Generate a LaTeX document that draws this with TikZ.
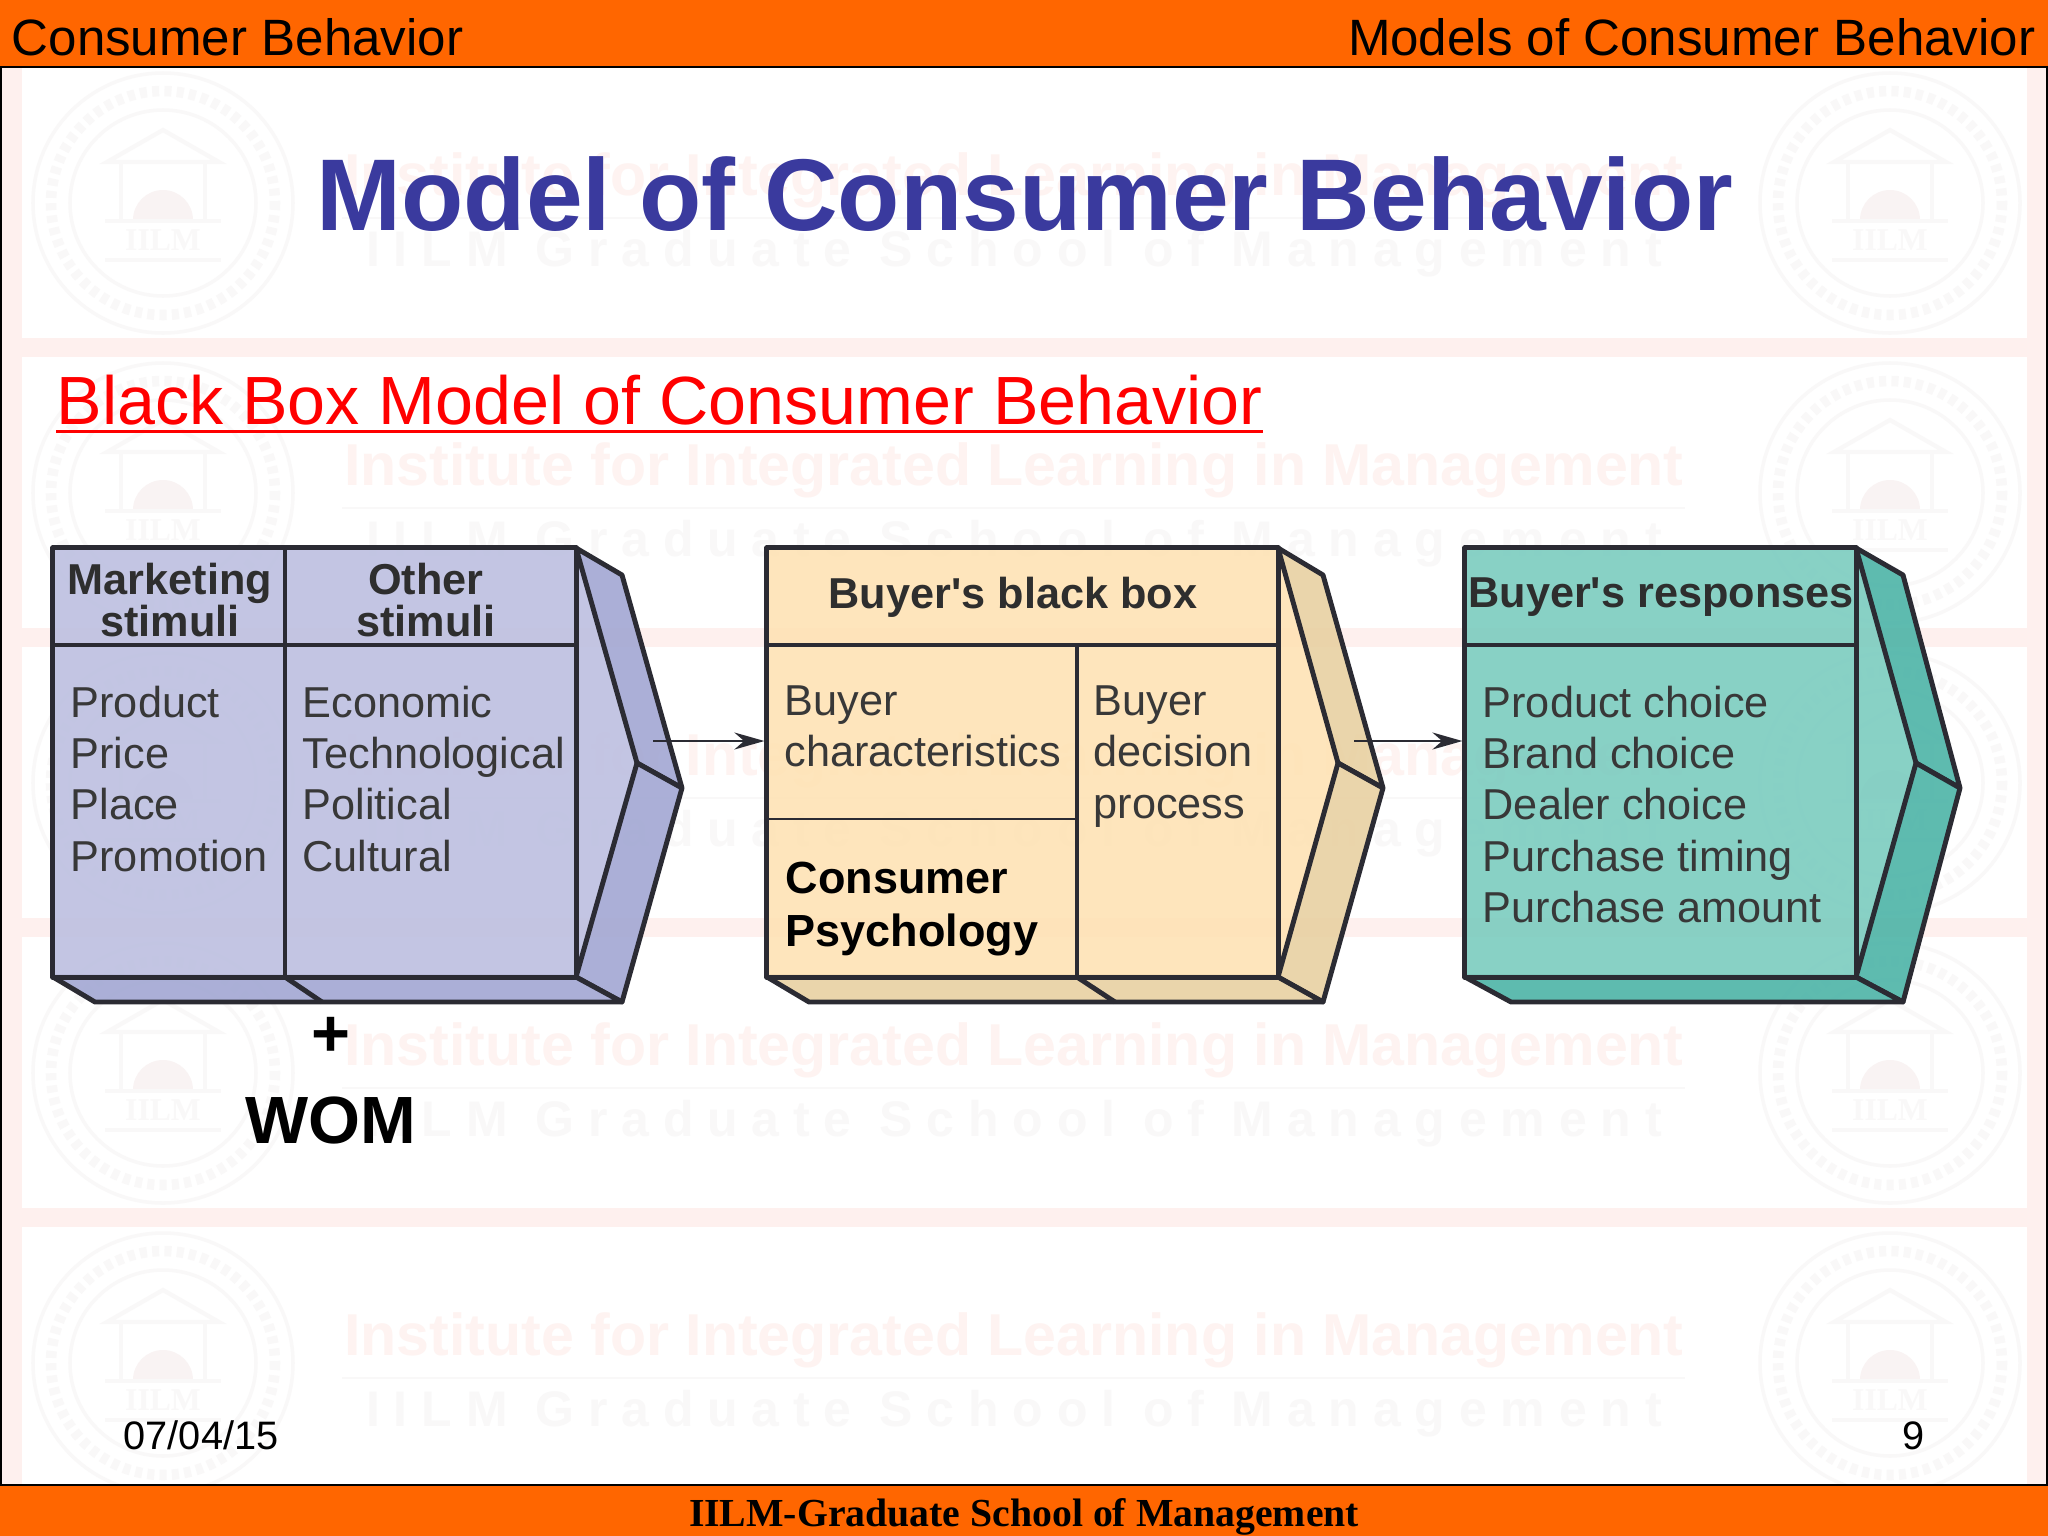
\documentclass[tikz,border=0pt]{standalone}
\usepackage{fontspec}
\setmainfont{Liberation Sans}
\newfontfamily\footfont{Liberation Serif}
\usetikzlibrary{arrows.meta}

\definecolor{barorange}{HTML}{FF6600}
\definecolor{titleblue}{HTML}{3A3A9E}
\definecolor{bandpink}{HTML}{FEF0EE}
\definecolor{markgrey}{HTML}{F9F8F8}
\definecolor{markpink}{HTML}{FEF3F1}
\definecolor{edgedark}{HTML}{2B2B33}
\definecolor{stimfront}{HTML}{BBBEE0}
\definecolor{stimside}{HTML}{A0A5D2}
\definecolor{buyerfront}{HTML}{FEE2B3}
\definecolor{buyerside}{HTML}{E8D0A0}
\definecolor{respfront}{HTML}{78CBBE}
\definecolor{respside}{HTML}{48B2A5}

\tikzset{
  slab/.style={draw=edgedark, line width=1.4pt, line join=round, fill opacity=0.88},
  rule/.style={draw=edgedark, line width=1.4pt},
  cell/.style={anchor=north west, inner sep=0pt, align=left, text=black!78, font=\fontsize{12.3}{14.6}\selectfont},
  head/.style={inner sep=0pt, align=center, text=black!82, font=\fontsize{12.3}{12.1}\selectfont\bfseries},
  conn/.style={draw=edgedark, line width=0.6pt, -{Stealth[length=3mm,width=1.7mm]}},
  wmbig/.style={text=markpink, inner sep=0pt, font=\fontsize{16.8}{18}\selectfont\bfseries},
  wmsmall/.style={text=markgrey, inner sep=0pt, font=\fontsize{14.2}{16}\selectfont\bfseries}
}

\begin{document}
\begin{tikzpicture}[x=0.01cm, y=-0.01cm]
    \useasboundingbox (0, 0) rectangle (2048, 1536);
    \fill[white] (0, 0) rectangle (2048, 1536);

    % background tiles
    \fill[bandpink] (2, 68) rectangle (22, 1485);
    \fill[bandpink] (2027, 68) rectangle (2046, 1485);
    \foreach \by in {338, 628, 918, 1208} {
      \fill[bandpink] (22, \by) rectangle (2027, \by + 19);
    }
    \foreach \ty in {0, 290, 580, 870, 1160} {
      \foreach \tx in {163, 1890} {
        \draw[markgrey, line width=1pt] (\tx, 203 + \ty) circle [radius=130];
        \draw[markgrey, line width=1pt] (\tx, 203 + \ty) circle [radius=93];
        \draw[markgrey, line width=3pt, dash pattern=on 2pt off 1.5pt] (\tx, 203 + \ty) circle [radius=112];
        \draw[markgrey, line width=1.2pt] (\tx - 56, 162 + \ty) -- (\tx, 130 + \ty) -- (\tx + 56, 162 + \ty) -- cycle;
        \fill[markgrey!98!red] (\tx - 30, 220 + \ty) arc [start angle=180, end angle=360, radius=30] -- cycle;
        \draw[markgrey, line width=1.2pt] (\tx - 42, 162 + \ty) -- (\tx - 42, 220 + \ty);
        \draw[markgrey, line width=1.2pt] (\tx + 42, 162 + \ty) -- (\tx + 42, 220 + \ty);
        \draw[markgrey, line width=1.2pt] (\tx - 58, 221 + \ty) -- (\tx + 58, 221 + \ty);
        \draw[markgrey, line width=1.2pt] (\tx - 58, 260 + \ty) -- (\tx + 58, 260 + \ty);
        \node[text=markgrey, font=\footfont\fontsize{9}{9}\selectfont\bfseries, inner sep=0pt] (seal) at (\tx, 240 + \ty) {IILM};
      }
      \node[wmbig] (wmname) at (1014, 180 + \ty) {Institute for Integrated Learning in Management};
      \node[wmsmall] (wmschool) at (1014, 254 + \ty) {I I L M\ \ G r a d u a t e\ \ S c h o o l\ \ o f\ \ M a n a g e m e n t};
      \draw[markgrey, line width=0.6pt] (342, 218 + \ty) -- (1685, 218 + \ty);
    }

    % header and footer
    \fill[barorange] (0, 0) rectangle (2048, 67);
    \draw[black, line width=0.7pt] (0, 67) -- (2048, 67);
    \fill[barorange] (0, 1485) rectangle (2048, 1536);
    \draw[black, line width=0.7pt] (0, 1485) -- (2048, 1485);
    \draw[black, line width=0.5pt] (1, 67) -- (1, 1485);
    \draw[black, line width=0.5pt] (2047, 67) -- (2047, 1485);

    \node[anchor=base west, inner sep=0pt, font=\fontsize{14.53}{16}\selectfont] (course) at (11, 55) {Consumer Behavior};
    \node[anchor=base east, inner sep=0pt, font=\fontsize{14.53}{16}\selectfont] (topic) at (2036, 55) {Models of Consumer Behavior};
    \node[anchor=base, inner sep=0pt, font=\footfont\fontsize{11.3}{12}\selectfont\bfseries] (school) at (1024, 1526) {IILM-Graduate School of Management};
    \node[anchor=base west, inner sep=0pt, font=\fontsize{11.3}{12}\selectfont] (date) at (123, 1449) {07/04/15};
    \node[anchor=base east, inner sep=0pt, font=\fontsize{11.3}{12}\selectfont] (page) at (1925, 1449) {9};

    % headings
    \node[anchor=base, inner sep=0pt, text=titleblue, font=\fontsize{29}{32}\selectfont\bfseries] (title) at (1025, 230) {Model of Consumer Behavior};
    \node[anchor=base west, inner sep=0pt, text=red, font=\fontsize{19.4}{22}\selectfont] (subtitle) at (56, 424) {Black Box Model of Consumer Behavior};
    \draw[red, line width=1pt] ([yshift=-0.06cm]subtitle.south west) -- ([yshift=-0.06cm]subtitle.south east);

    % stimuli box
    \fill[stimfront, fill opacity=0.88] (576, 548) -- (637, 763) -- (576, 977) -- cycle;
    \filldraw[slab, fill=stimside] (576, 548) -- (622, 575) -- (682, 788) -- (637, 763) -- cycle;
    \filldraw[slab, fill=stimside] (576, 977) -- (637, 763) -- (682, 788) -- (622, 1002) -- cycle;
    \filldraw[slab, fill=stimside] (53, 977) -- (95, 1002) -- (622, 1002) -- (576, 977) -- cycle;
    \node[slab, fill=stimfront, minimum width=5.23cm, minimum height=4.29cm, inner sep=0pt] (stimbox) at (314.5, 762.5) {};
    \draw[rule] (53, 645) -- (576, 645);
    \draw[rule] (285, 548) -- (285, 977);
    \draw[rule] (285, 977) -- (322, 1002);

    \node[head] (stimhead) at (170, 600) {Marketing\\stimuli};
    \node[head] (otherhead) at (426, 600) {Other\\stimuli};
    \node[cell] (stimlist) at (70, 685) {Product\\Price\\Place\\Promotion};
    \node[cell] (otherlist) at (302, 685) {Economic\\Technological\\Political\\Cultural};

    % black box
    \fill[buyerfront, fill opacity=0.88] (1278, 548) -- (1338, 763) -- (1278, 977) -- cycle;
    \filldraw[slab, fill=buyerside] (1278, 548) -- (1323, 575) -- (1383, 788) -- (1338, 763) -- cycle;
    \filldraw[slab, fill=buyerside] (1278, 977) -- (1338, 763) -- (1383, 788) -- (1323, 1002) -- cycle;
    \filldraw[slab, fill=buyerside] (767, 977) -- (809, 1002) -- (1323, 1002) -- (1278, 977) -- cycle;
    \node[slab, fill=buyerfront, minimum width=5.11cm, minimum height=4.29cm, inner sep=0pt] (buyerbox) at (1022.5, 762.5) {};
    \draw[rule] (767, 645) -- (1278, 645);
    \draw[rule] (1077, 645) -- (1077, 977);
    \draw[rule] (1077, 977) -- (1115, 1002);
    \draw[draw=edgedark, line width=0.8pt] (767, 819) -- (1077, 819);

    \node[head] (buyerhead) at (1013, 597) {Buyer\textquotesingle s black box};
    \node[cell] (traits) at (784, 685) {Buyer\\characteristics};
    \node[cell] (decision) at (1093, 685) {Buyer\\decision\\process};
    \node[cell, text=black, font=\fontsize{12.8}{15.3}\selectfont\bfseries] (psych) at (785, 861) {Consumer\\Psychology};

    % responses box
    \fill[respfront, fill opacity=0.88] (1856, 548) -- (1916, 763) -- (1856, 977) -- cycle;
    \filldraw[slab, fill=respside] (1856, 548) -- (1903, 575) -- (1960, 788) -- (1916, 763) -- cycle;
    \filldraw[slab, fill=respside] (1856, 977) -- (1916, 763) -- (1960, 788) -- (1903, 1002) -- cycle;
    \filldraw[slab, fill=respside] (1465, 977) -- (1511, 1002) -- (1903, 1002) -- (1856, 977) -- cycle;
    \node[slab, fill=respfront, minimum width=3.91cm, minimum height=4.29cm, inner sep=0pt] (respbox) at (1660.5, 762.5) {};
    \draw[rule] (1465, 645) -- (1856, 645);

    \node[head] (resphead) at (1661, 597) {Buyer\textquotesingle s responses};
    \node[cell] (resplist) at (1482, 685) {Product choice\\Brand choice\\Dealer choice\\Purchase timing\\Purchase amount};

    % connectors
    \coordinate (stimout) at (653, 741);
    \coordinate (buyerout) at (1354, 741);
    \draw[conn] (stimout) -- (stimout -| buyerbox.west);
    \draw[conn] (buyerout) -- (buyerout -| respbox.west);

    \node[inner sep=0pt, text=black, font=\fontsize{19}{20}\selectfont\bfseries] (plus) at (331, 1037) {+};
    \node[anchor=base, inner sep=0pt, text=black, font=\fontsize{19}{20}\selectfont\bfseries] (wom) at (331, 1143) {WOM};

  \end{tikzpicture}
\end{document}
